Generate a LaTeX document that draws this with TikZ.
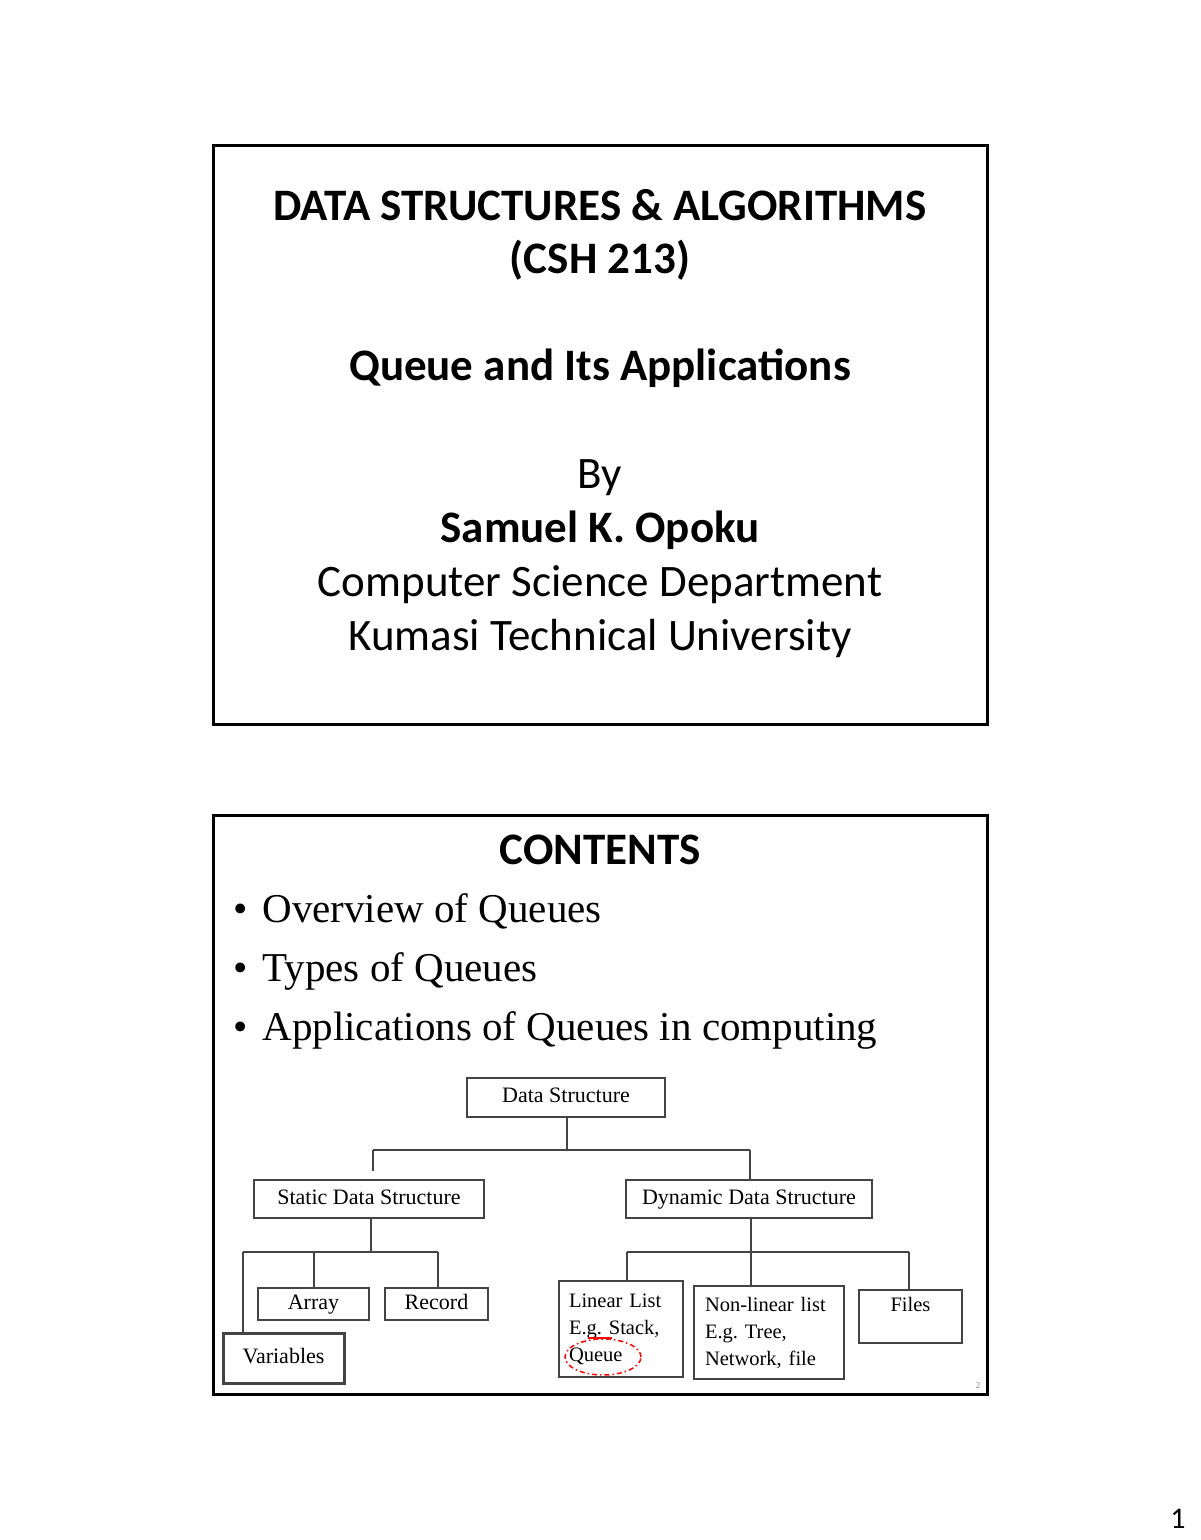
\documentclass[tikz,border=0pt]{standalone}
\usepackage{fontspec}
\setmainfont{Liberation Serif}
\newfontfamily\calfont{Carlito}
\usetikzlibrary{shapes.geometric}
\definecolor{dgray}{HTML}{444444}
\tikzset{
  slide/.style={draw=black, line width=3pt},
  tbox/.style={draw=dgray, line width=2pt, inner sep=0pt, font=\frenchspacing\fontsize{22}{27}\selectfont},
  one/.style={text height=15pt, text depth=5pt},
  mbox/.style={draw=dgray, line width=2pt, inner sep=0pt, font=\frenchspacing\fontsize{20.5}{27}\selectfont},
  conn/.style={draw=dgray, line width=2pt},
  ttl/.style={font=\calfont\bfseries\fontsize{45}{50}\selectfont, inner sep=0pt},
  sub/.style={font=\calfont\fontsize{45}{50}\selectfont, inner sep=0pt},
  bul/.style={font=\fontsize{41}{46}\selectfont, anchor=base west, inner sep=0pt},
}
\begin{document}
\begin{tikzpicture}[x=1pt,y=-1pt]
\useasboundingbox[fill=white] (0,0) rectangle (1200,1540);
% slide 1
\draw[slide] (213,145) rectangle (987,724);
\node[ttl] (t1) at (600,205) {DATA STRUCTURES \& ALGORITHMS};
\node[ttl] (t2) at (600,260) {(CSH 213)};
\node[ttl] (t3) at (600,368) {Queue and Its Applications};
\node[sub] (t4) at (600,478) {By};
\node[ttl] (t5) at (600,530) {Samuel K. Opoku};
\node[sub] (t6) at (600,585) {Computer Science Department};
\node[sub] (t7) at (600,638) {Kumasi Technical University};
% slide 2
\draw[slide] (213,815) rectangle (987,1394);
\node[ttl] (ct) at (600,850) {CONTENTS};
\node[bul] (b1) at (233,922) {\textbullet\hspace{15pt}Overview of Queues};
\node[bul] (b2) at (233,981) {\textbullet\hspace{15pt}Types of Queues};
\node[bul] (b3) at (233,1040) {\textbullet\hspace{15pt}Applications of Queues in computing};
% tree
\node[tbox, one, minimum width=198pt, minimum height=39pt] (ds) at (566,1097.5) {Data Structure};
\node[tbox, one, minimum width=230pt, minimum height=38pt] (sds) at (369,1199) {Static Data Structure};
\node[tbox, one, minimum width=246pt, minimum height=38pt] (dds) at (749,1199) {Dynamic Data Structure};
\node[tbox, one, minimum width=111pt, minimum height=32pt] (arr) at (313.5,1304) {Array};
\node[tbox, one, minimum width=103pt, minimum height=32pt] (rec) at (436.5,1304) {Record};
\node[tbox, one, minimum width=121pt, minimum height=50pt, line width=3pt] (var) at (283.5,1358) {Variables};
\node[mbox, minimum width=124pt, minimum height=96pt, text width=104pt, inner xsep=10pt, align=left] (lin) at (621,1329) {Linear List\\E.g. Stack,\\Queue};
\node[mbox, minimum width=150pt, minimum height=93pt, text width=128pt, inner xsep=11pt, align=left] (non) at (769,1332.5) {Non-linear list\\E.g. Tree,\\Network, file};
\node[tbox, minimum width=103pt, minimum height=53pt] (fil) at (910.5,1316.5) {};
\node[anchor=north, inner sep=0pt, font=\fontsize{20.5}{27}\selectfont] (filt) at ([yshift=-8pt]fil.north) {Files};
% connectors
\coordinate (j1) at (567,1150);
\coordinate (jL) at (373,1150);
\coordinate (jR) at (750,1150);
\draw[conn] (ds.south -| j1) -- (j1);
\draw[conn] (jL) -- (jR);
\draw[conn, shorten >=8pt] (jL) -- (jL |- sds.north);
\draw[conn] (jR) -- (jR |- dds.north);
\coordinate (s1) at (371,1252);
\coordinate (sL) at (243,1252);
\coordinate (sA) at (314,1252);
\coordinate (sR) at (438,1252);
\draw[conn] (sds.south -| s1) -- (s1);
\draw[conn] (sL) -- (sR);
\draw[conn] (sL) -- (sL |- var.north);
\draw[conn] (sA) -- (sA |- arr.north);
\draw[conn] (sR) -- (sR |- rec.north);
\coordinate (d1) at (751,1252);
\coordinate (dL) at (627,1252);
\coordinate (dR) at (909,1252);
\draw[conn] (dds.south -| d1) -- (d1 |- non.north);
\draw[conn] (dL) -- (dR);
\draw[conn] (dL) -- (dL |- lin.north);
\draw[conn] (dR) -- (dR |- fil.north);
% red marks
\node[draw=red, dash pattern=on 5pt off 3pt on 1.5pt off 3pt, line width=1.5pt, ellipse, minimum width=76pt, minimum height=36pt, inner sep=0pt] (qmark) at (603,1357) {};
\coordinate (u1) at (588,1338);
\coordinate (u2) at (612,1338);
\draw[red, line width=1.5pt] (u1) -- (u2);
% page numbers
\node[font=\fontsize{9}{9}\selectfont, text=gray, inner sep=0pt] (sn) at (978,1386) {2};
\node[font=\calfont\fontsize{30}{30}\selectfont, inner sep=0pt] (pn) at (1178,1519) {1};
\end{tikzpicture}
\end{document}
